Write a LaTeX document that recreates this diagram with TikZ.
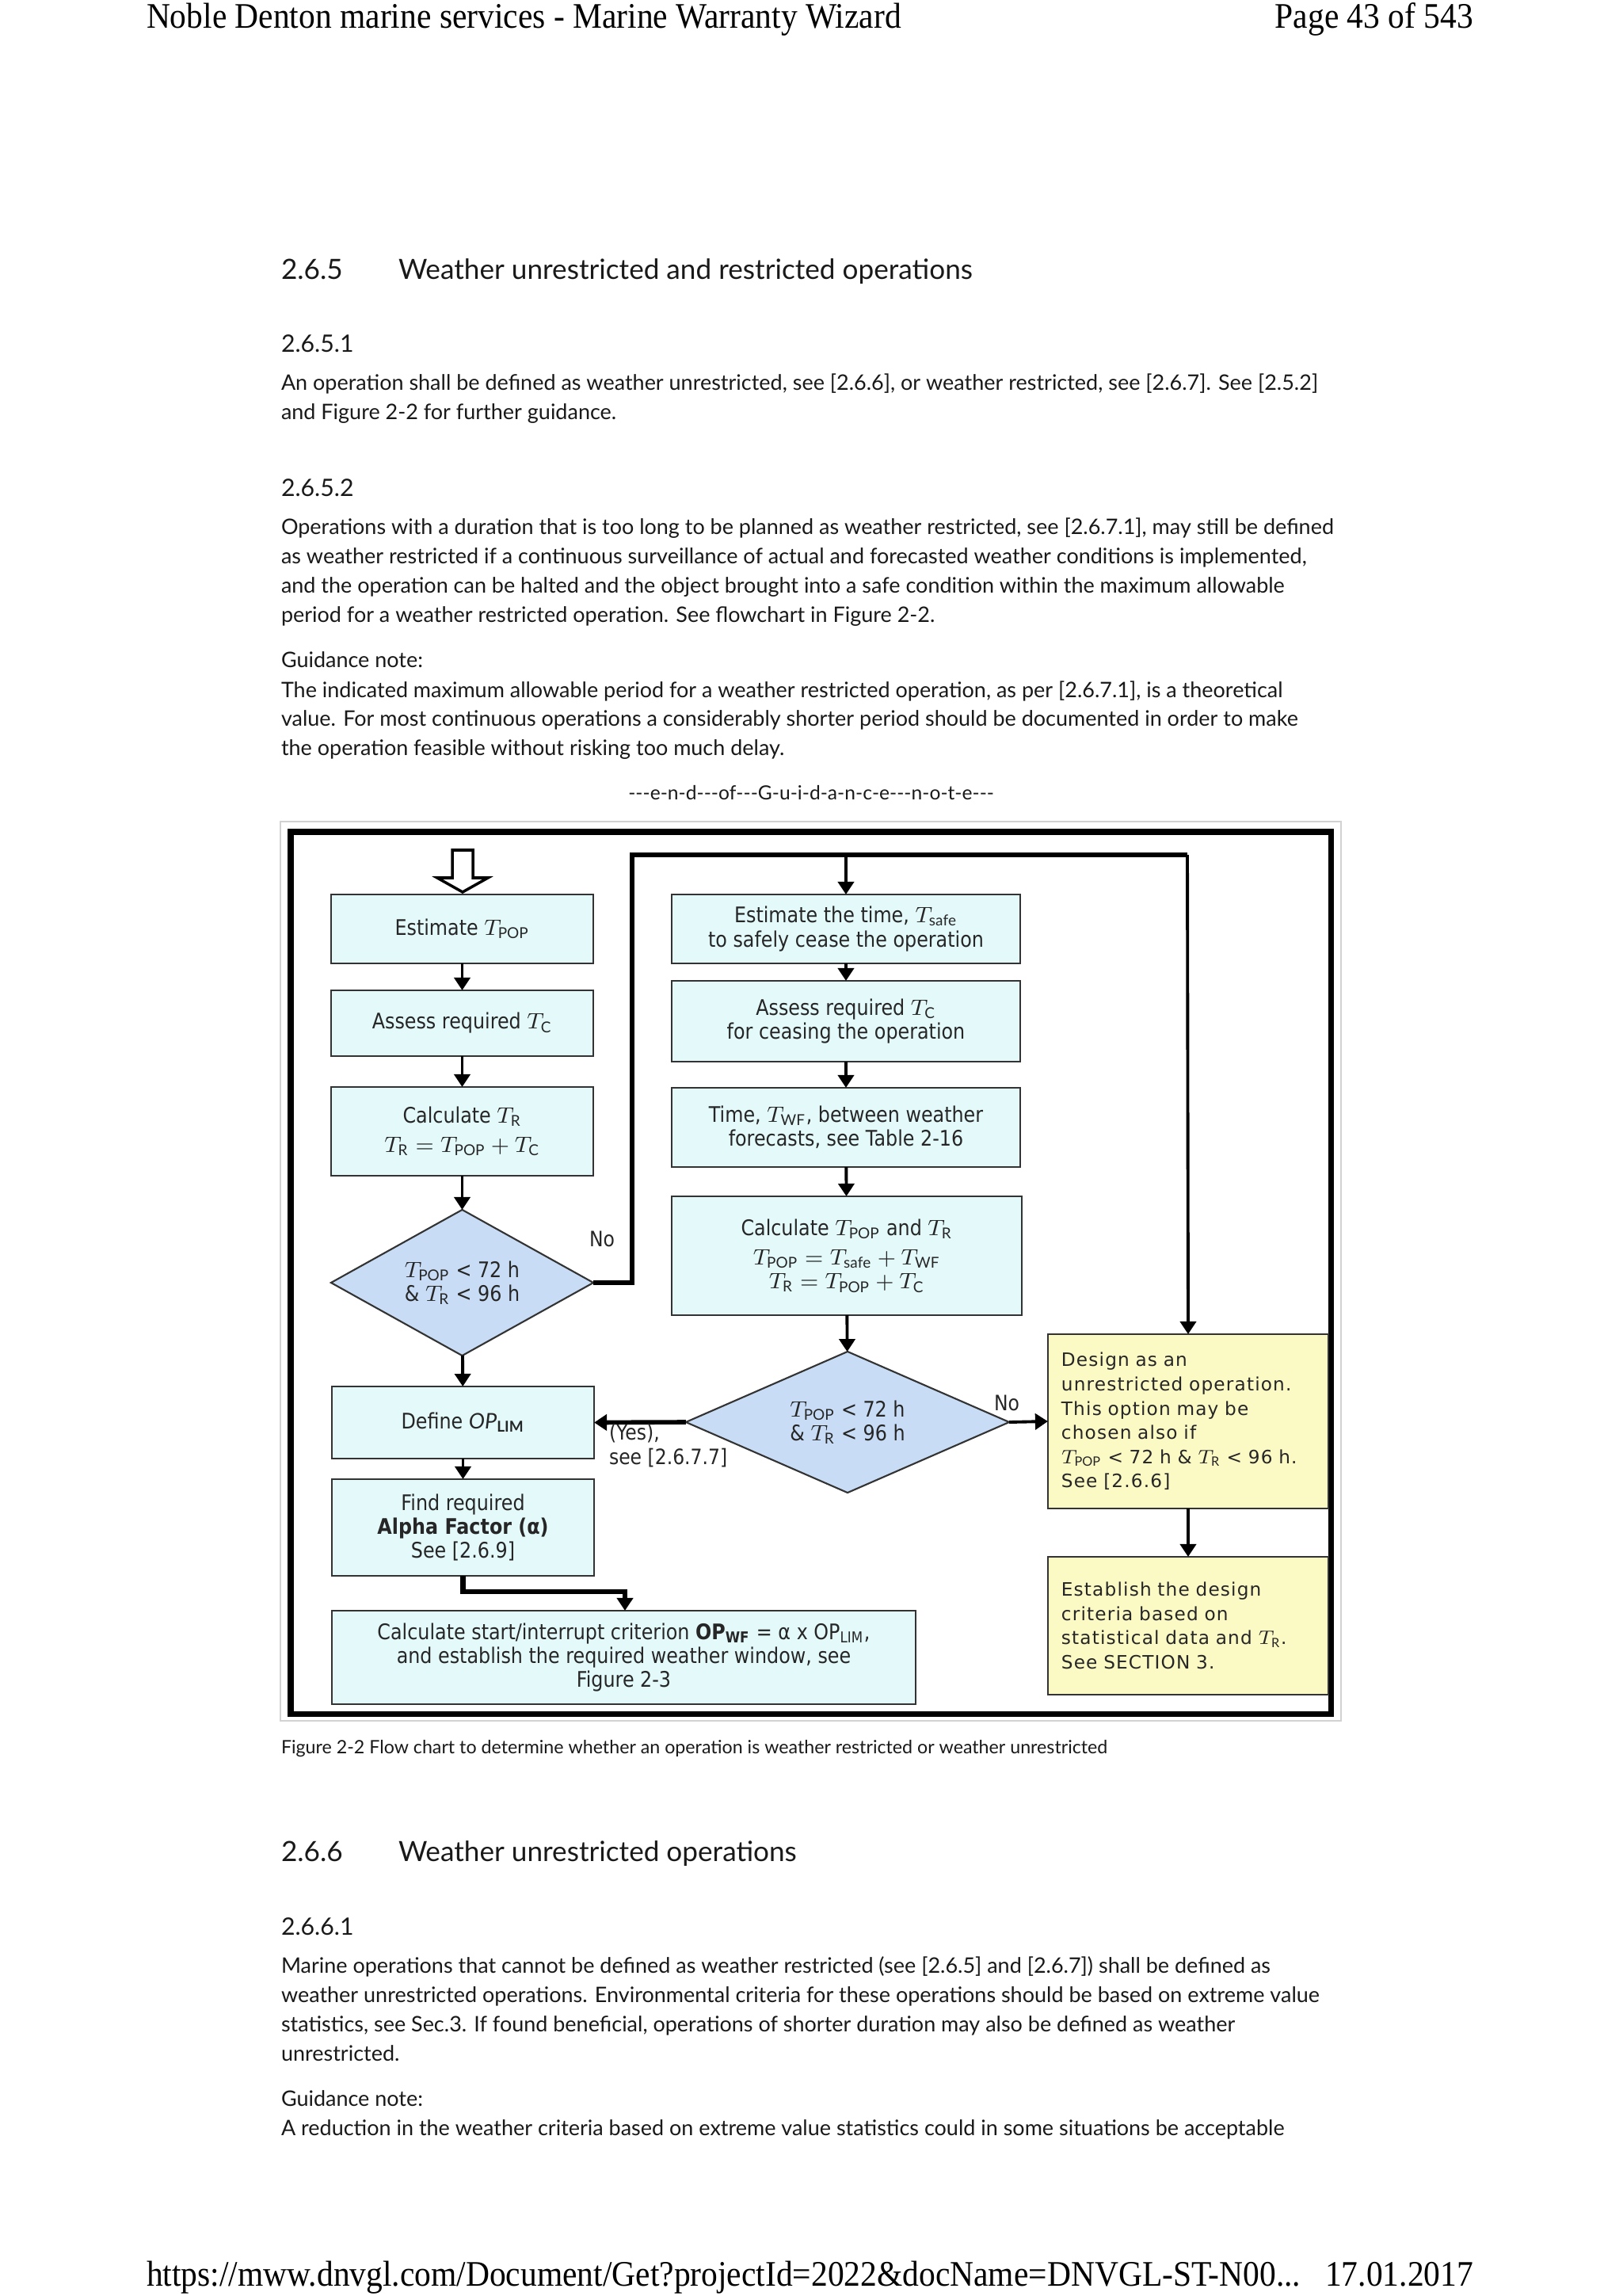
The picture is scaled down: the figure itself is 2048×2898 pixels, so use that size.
\documentclass[tikz,border=0pt]{standalone}
\usepackage{fontspec}
\setmainfont{Lato}
\newfontfamily\pagefont[FakeStretch=0.915]{Liberation Serif}
\newfontfamily\chartfont[FakeStretch=0.88]{DejaVu Sans}
\newfontfamily\notefont[LetterSpace=5]{DejaVu Sans}
\usetikzlibrary{arrows.meta,calc,positioning,shapes.geometric}
\definecolor{boxfill}{HTML}{E3F9FA}
\definecolor{diafill}{HTML}{C8DDF5}
\definecolor{notefill}{HTML}{FBF9C4}
\definecolor{framegray}{HTML}{D2D2D2}
\newcommand\hyph{\mbox{-}}

\begin{document}
\begin{tikzpicture}[x=0.01cm,y=-0.01cm,
  txt/.style={anchor=base west,inner sep=0,outer sep=0,text=black!90},
  body/.style={txt,font=\fontsize{7.67}{9}\selectfont},
  sechead/.style={txt,font=\fontsize{10}{12}\selectfont},
  subhead/.style={txt,font=\fontsize{8.6}{10}\selectfont},
  pagehdr/.style={txt,font=\pagefont\fontsize{12.9}{14}\selectfont,text=black},
  chart/.style={draw=black!80,line width=0.6pt,fill=boxfill,inner sep=0,outer sep=0,
    align=center,text=black!85,font=\chartfont\fontsize{7.7}{8.6}\selectfont},
  decide/.style={chart,diamond,shape aspect=1.8,fill=diafill,align=left},
  note/.style={chart,fill=notefill,align=left,inner xsep=0.17cm,text width=3.2cm,
    font=\notefont\fontsize{6.6}{8.7}\selectfont},
  flow/.style={line width=1.1pt,-{Triangle[length=1.6mm,width=2mm]}},
  loopline/.style={line width=1.8pt},
  tag/.style={inner sep=0,outer sep=0,text=black!85,font=\chartfont\fontsize{7.6}{9}\selectfont}]
  \fill[white] (0,0) rectangle (2048,2898);
  \useasboundingbox (0,0) rectangle (2048,2898);
  % page header and footer
  \node[pagehdr] (hdrl) at (185,36) {Noble Denton marine services - Marine Warranty Wizard};
  \node[pagehdr,anchor=base east] (hdrr) at (1860,36) {Page 43 of 543};
  \node[pagehdr] (ftrl) at (185,2885) {https://mww.dnvgl.com/Document/Get?projectId=2022\&docName=DNVGL-ST-N00...};
  \node[pagehdr,anchor=base east] (ftrr) at (1860,2885) {17.01.2017};
  % section text
  \node[sechead] (s265) at (355,353) {2.6.5};
  \node[sechead] (s265t) at (503,353) {Weather unrestricted and restricted operations};
  \node[subhead] (s2651) at (355,445) {2.6.5.1};
  \node[subhead] (s2652) at (355,627) {2.6.5.2};
  \node[sechead] (s266) at (355,2349) {2.6.6};
  \node[sechead] (s266t) at (503,2349) {Weather unrestricted operations};
  \node[subhead] (s2661) at (355,2442) {2.6.6.1};
  \foreach \y/\txt in {
    493/{An operation shall be defined as weather unrestricted, see [2.6.6], or weather restricted, see [2.6.7]. See [2.5.2]},
    530/{and Figure 2-2 for further guidance.},
    675/{Operations with a duration that is too long to be planned as weather restricted, see [2.6.7.1], may still be defined},
    712/{as weather restricted if a continuous surveillance of actual and forecasted weather conditions is implemented,},
    749/{and the operation can be halted and the object brought into a safe condition within the maximum allowable},
    786/{period for a weather restricted operation. See flowchart in Figure 2-2.},
    843/{Guidance note:},
    880/{The indicated maximum allowable period for a weather restricted operation, as per [2.6.7.1], is a theoretical},
    917/{value. For most continuous operations a considerably shorter period should be documented in order to make},
    954/{the operation feasible without risking too much delay.},
    2490/{Marine operations that cannot be defined as weather restricted (see [2.6.5] and [2.6.7]) shall be defined as},
    2527/{weather unrestricted operations. Environmental criteria for these operations should be based on extreme value},
    2564/{statistics, see Sec.3. If found beneficial, operations of shorter duration may also be defined as weather},
    2601/{unrestricted.},
    2658/{Guidance note:},
    2695/{A reduction in the weather criteria based on extreme value statistics could in some situations be acceptable}}
    \node[body] (line\y) at (355,\y) {\txt};
  \node[body,anchor=base,font=\fontsize{7}{9}\selectfont] (endnote) at (1024,1009)
    {\hyph\hyph\hyph e\hyph n\hyph d\hyph\hyph\hyph of\hyph\hyph\hyph G\hyph u\hyph i\hyph d\hyph a\hyph n\hyph c\hyph e\hyph\hyph\hyph n\hyph o\hyph t\hyph e\hyph\hyph\hyph};
  \node[txt,font=\fontsize{6.6}{8}\selectfont] (caption) at (355,2213)
    {Figure 2-2 Flow chart to determine whether an operation is weather restricted or weather unrestricted};
  % figure frame
  \draw[framegray,line width=0.7pt] (354,1037) rectangle (1693,2172);
  \draw[line width=2pt] (367,1050) rectangle (1680,2163);
  % left column
  \node[chart,minimum width=3.31cm,minimum height=0.87cm] (estpop) at (583.5,1172.5) {Estimate $T_{\mathrm{POP}}$};
  \node[chart,minimum width=3.31cm,minimum height=0.83cm] (assessc) at (583.5,1291.5) {Assess required $T_{\mathrm{C}}$};
  \node[chart,minimum width=3.31cm,minimum height=1.12cm] (calcr) at (583.5,1428)
    {Calculate $T_{\mathrm{R}}$\\[2pt] $T_{\mathrm{R}} = T_{\mathrm{POP}} + T_{\mathrm{C}}$};
  \node[decide,minimum width=3.31cm,minimum height=1.84cm] (dec1) at (583.5,1619)
    {$T_{\mathrm{POP}}$ < 72 h\\\& $T_{\mathrm{R}}$ < 96 h};
  \node[chart,minimum width=3.31cm,minimum height=0.91cm] (defop) at (584.5,1795.5) {Define $\mathit{OP}_{\mathbf{LIM}}$};
  \node[chart,minimum width=3.31cm,minimum height=1.22cm] (alpha) at (584.5,1928)
    {Find required\\\textbf{Alpha Factor (α)}\\See [2.6.9]};
  \node[chart,minimum width=7.37cm,minimum height=1.18cm] (calcstart) at (787.5,2092)
    {Calculate start/interrupt criterion \textbf{OP\textsubscript{WF}} = α x OP\textsubscript{LIM},\\and establish the required weather window, see\\Figure 2-3};
  % middle column
  \node[chart,minimum width=4.40cm,minimum height=0.87cm] (esttime) at (1068,1172.5)
    {Estimate the time, $T_{\mathrm{safe}}$\\to safely cease the operation};
  \node[chart,minimum width=4.40cm,minimum height=1.02cm] (assesscease) at (1068,1289)
    {Assess required $T_{\mathrm{C}}$\\for ceasing the operation};
  \node[chart,minimum width=4.40cm,minimum height=1.00cm] (timewf) at (1068,1423)
    {Time, $T_{\mathrm{WF}}$, between weather\\forecasts, see Table 2-16};
  \node[chart,minimum width=4.42cm,minimum height=1.50cm] (calcpop) at (1069,1585)
    {Calculate $T_{\mathrm{POP}}$ and $T_{\mathrm{R}}$\\[2pt] $T_{\mathrm{POP}} = T_{\mathrm{safe}} + T_{\mathrm{WF}}$\\ $T_{\mathrm{R}} = T_{\mathrm{POP}} + T_{\mathrm{C}}$};
  \node[decide,minimum width=4.08cm,minimum height=1.78cm] (dec2) at (1070,1795)
    {$T_{\mathrm{POP}}$ < 72 h\\\& $T_{\mathrm{R}}$ < 96 h};
  % right column
  \node[note,minimum height=2.20cm] (design) at (1500,1794)
    {Design as an\\unrestricted operation.\\This option may be\\chosen also if\\$T_{\mathrm{POP}}$ < 72 h \& $T_{\mathrm{R}}$ < 96 h.\\See [2.6.6]};
  \node[note,minimum height=1.74cm] (establish) at (1500,2052)
    {Establish the design\\criteria based on\\statistical data and $T_{\mathrm{R}}$.\\See SECTION 3.};
  % connectors
  \coordinate (entry) at (584,1073);
  \draw[line width=1pt,fill=white,line join=miter] (entry) +(-13,0) -- +(13,0) -- +(13,35) -- +(32,35)
    -- +(0,53) -- +(-32,35) -- +(-13,35) -- cycle;
  \draw[flow] (estpop) -- (assessc);
  \draw[flow] (assessc) -- (calcr);
  \draw[flow] (calcr) -- (dec1);
  \draw[flow] (dec1) -- (defop);
  \draw[flow] (defop) -- (alpha);
  \coordinate (alphajog) at (789,2009);
  \draw[loopline,-{Triangle[length=1.6mm,width=2mm]}] (alpha.south) |- (alphajog) -- (calcstart.north -| alphajog);
  \coordinate (looptop) at (798,1079);
  \coordinate (loopright) at (1499,1079);
  \draw[loopline,line join=miter] (dec1.east) -| (looptop) -- (loopright);
  \draw[flow] (loopright) -- (design.north);
  \draw[flow] (esttime.north |- looptop) -- (esttime.north);
  \draw[flow] (esttime) -- (assesscease);
  \draw[flow] (assesscease) -- (timewf);
  \draw[flow] (timewf) -- (calcpop);
  \draw[flow] (calcpop) -- (dec2);
  \draw[flow,line width=1.6pt] (dec2.west) -- (defop.east);
  \draw[flow] (dec2.east) -- (design.west);
  \draw[flow] (design) -- (establish);
  % branch labels
  \node[tag] (no1) at (760,1564) {No};
  \node[tag] (no2) at (1271,1771) {No};
  \node[tag,anchor=north west,align=left] (yes) at (769,1797) {(Yes),\\see [2.6.7.7]};
\end{tikzpicture}
\end{document}
